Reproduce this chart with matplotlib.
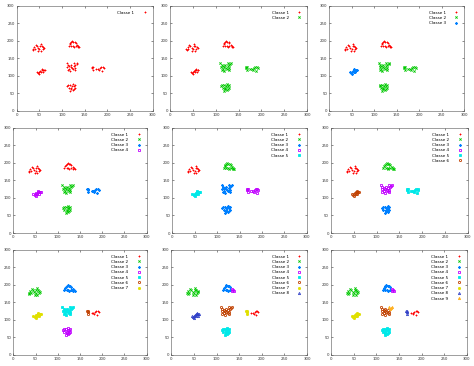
import matplotlib
matplotlib.use("Agg")
import matplotlib.pyplot as plt
import numpy as np

# ---- data: six point clusters ----
A_x = [35, 36, 38, 42, 44, 47, 50, 52, 53, 55, 57, 58, 60, 48, 54, 40]
A_y = [178, 174, 182, 188, 186, 180, 176, 184, 190, 186, 178, 182, 180, 172, 172, 176]

B_main_x = [115, 117, 118, 120, 122, 124, 125, 126, 128, 130, 130, 120]
B_main_y = [185, 190, 193, 196, 199, 186, 198, 182, 196, 193, 186, 184]
B_right_x = [134, 136, 138, 135]
B_right_y = [188, 185, 182, 181]

C_main_x = [110, 113, 116, 119, 122, 125, 128, 113, 116, 112, 120, 126, 128, 118]
C_main_y = [136, 132, 128, 125, 122, 119, 116, 118, 121, 125, 130, 127, 123, 114]
C_tr_x = [129, 132, 134, 127]
C_tr_y = [131, 134, 136, 137]

D_x = [45, 48, 50, 52, 55, 57, 60, 62, 54, 58, 50, 56]
D_y = [110, 108, 112, 114, 116, 118, 118, 116, 110, 112, 106, 120]

E_left_x = [166, 167, 168, 168]
E_left_y = [126, 122, 118, 125]
E_right_x = [176, 180, 184, 187, 190, 188, 192, 182]
E_right_y = [119, 121, 122, 124, 126, 115, 122, 118]

F_x = [112, 115, 118, 120, 122, 124, 126, 128, 124, 118, 114, 128, 120, 126]
F_y = [70, 66, 74, 62, 70, 76, 72, 66, 60, 58, 74, 74, 66, 62]

groups = [(A_x, A_y), (B_main_x, B_main_y), (B_right_x, B_right_y),
          (C_main_x, C_main_y), (C_tr_x, C_tr_y), (D_x, D_y),
          (E_left_x, E_left_y), (E_right_x, E_right_y), (F_x, F_y)]

# class of each group in each panel (k = 1..9)
assign = [
    [1, 1, 1, 1, 1, 1, 1, 1, 1],
    [1, 1, 1, 2, 2, 1, 2, 2, 2],
    [1, 1, 1, 2, 2, 3, 2, 2, 2],
    [1, 1, 1, 2, 2, 4, 3, 3, 2],
    [1, 2, 2, 3, 3, 5, 4, 4, 3],
    [1, 2, 2, 4, 4, 6, 5, 5, 3],
    [2, 3, 3, 5, 5, 7, 6, 1, 4],
    [2, 3, 4, 6, 6, 8, 7, 1, 5],
    [2, 3, 4, 6, 9, 7, 8, 1, 5],
]

class_labels = ["Classe %d" % i for i in range(1, 10)]
ticks = [0, 50, 100, 150, 200, 250, 300]

colors = ['#ff0000', '#00c800', '#0080ff', '#c000ff', '#00e8e8',
          '#c04000', '#e0e000', '#3040c8', '#ffb020']
markers = ['+', 'x', (6, 2, 0), 's', 's', 'o', 'o', '^', '^']
filled = [True, True, True, False, True, False, True, False, True]

# axes positions in pixels: (left, right) per panel; rows share vertical extents
W, H = 474, 366
xpos = [(16.7, 152.7), (170.2, 307.0), (329.3, 464.0),
        (13.3, 146.7), (172.3, 306.7), (331.0, 467.7),
        (13.3, 146.7), (171.3, 307.0), (331.3, 466.7)]
row_top = [5.7, 127.7, 249.7]
row_bot = [111.0, 233.0, 355.0]

fig = plt.figure(figsize=(W / 100, H / 100), dpi=100)
fig.patch.set_facecolor('white')

for p in range(9):
    l, r = xpos[p]
    t, b = row_top[p // 3], row_bot[p // 3]
    ax = fig.add_axes([l / W, 1 - b / H, (r - l) / W, (b - t) / H])
    k = p + 1
    for c in range(1, k + 1):
        xs, ys = [], []
        for g, (gx, gy) in enumerate(groups):
            if assign[p][g] == c:
                xs += gx
                ys += gy
        col = colors[c - 1]
        fc = col if filled[c - 1] else 'none'
        ax.plot(xs, ys, linestyle='none', marker=markers[c - 1],
                markersize=1.6, markeredgewidth=0.6, color=col,
                markerfacecolor=fc, label=class_labels[c - 1])
    ax.set_xlim(0, 300)
    ax.set_ylim(0, 300)
    ax.set_xticks(ticks)
    ax.set_yticks(ticks)
    ax.tick_params(direction='in', top=True, right=True, length=1.5,
                   width=0.4, labelsize=2.8, pad=1.5, colors='#333333')
    for s in ax.spines.values():
        s.set_linewidth(0.4)
        s.set_color('#555555')
    ax.legend(loc='upper right', markerfirst=False, frameon=False,
              fontsize=3.0, handlelength=1.2, handletextpad=2.0,
              labelspacing=0.3, borderaxespad=1.0, borderpad=0.2)

fig.savefig('out.png', dpi=100)
